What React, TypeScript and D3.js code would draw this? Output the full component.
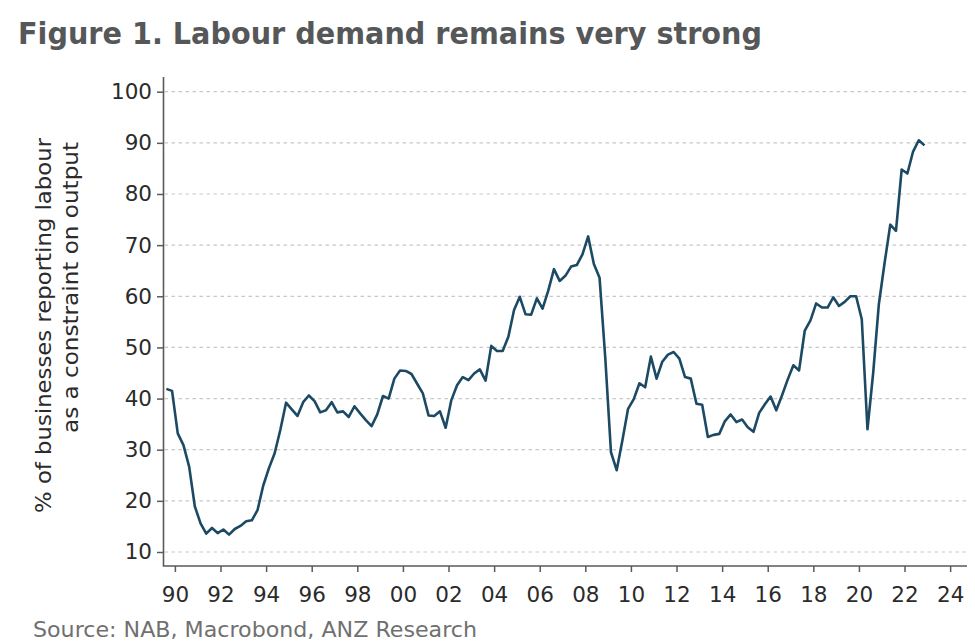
import React, { useEffect, useRef } from "react";
import * as d3 from "d3";

const width = 975;
const height = 643;

// quarterly series, first observation is 1989 Q3
const firstYear = 1989;
const firstQuarter = 3;
const labourConstraint = [
  41.9, 41.5,
  33.2, 30.9, 26.7, 18.9,
  15.6, 13.6, 14.7, 13.7,
  14.4, 13.4, 14.5, 15.1,
  16.0, 16.2, 18.2, 23.0,
  26.4, 29.3, 33.9, 39.2,
  37.9, 36.6, 39.3, 40.6,
  39.5, 37.3, 37.7, 39.3,
  37.3, 37.5, 36.4, 38.5,
  37.1, 35.8, 34.6, 36.9,
  40.5, 40.0, 43.9, 45.5,
  45.4, 44.8, 42.9, 41.0,
  36.7, 36.6, 37.5, 34.3,
  39.7, 42.6, 44.2, 43.6,
  44.9, 45.7, 43.5, 50.3,
  49.3, 49.3, 52.1, 57.3,
  59.9, 56.5, 56.4, 59.6,
  57.6, 61.1, 65.3, 63.0,
  64.0, 65.8, 66.1, 68.2,
  71.7, 66.3, 63.6, 48.0,
  29.5, 26.0, 31.8, 38.0,
  39.9, 43.0, 42.2, 48.2,
  43.9, 47.2, 48.6, 49.1,
  47.8, 44.2, 43.9, 39.0,
  38.8, 32.5, 32.9, 33.1,
  35.6, 36.9, 35.4, 35.9,
  34.4, 33.5, 37.2, 38.9,
  40.4, 37.7, 40.6, 43.7,
  46.5, 45.5, 53.3, 55.3,
  58.6, 57.8, 57.8, 59.8,
  58.1, 58.9, 60.0, 60.0,
  55.5, 34.0, 45.0, 58.5,
  66.5, 74.0, 72.8, 84.8,
  84.0, 88.3, 90.5, 89.5,
];

const yTicks = [10, 20, 30, 40, 50, 60, 70, 80, 90, 100];
const xTickYears = [
  1990, 1992, 1994, 1996, 1998, 2000, 2002, 2004, 2006, 2008, 2010, 2012,
  2014, 2016, 2018, 2020, 2022, 2024,
];
const xTickLabels = [
  "90", "92", "94", "96", "98", "00", "02", "04", "06", "08", "10", "12",
  "14", "16", "18", "20", "22", "24",
];

const plot = { left: 163.5, right: 967, top: 77, bottom: 566 };
const font = "'DejaVu Sans', Verdana, sans-serif";
const lineColor = "#1c4a65";
const axisColor = "#5a5a5a";
const textColor = "#2b2b2b";

export default function App(): JSX.Element {
  const ref = useRef<SVGSVGElement>(null);

  useEffect(() => {
    if (!ref.current) return;
    const svg = d3.select(ref.current);
    svg.selectAll("*").remove();

    const x = d3.scaleLinear().domain([1989.5, 2024.74]).range([plot.left, plot.right]);
    const y = d3.scaleLinear().domain([10, 100]).range([552, 91.7]);

    // quarters plotted at mid-quarter
    const series = labourConstraint.map((v, i) => ({
      t: firstYear + (firstQuarter - 1 + i) / 4 + 0.125,
      v,
    }));

    // dashed gridlines
    svg
      .append("g")
      .selectAll("line")
      .data(yTicks)
      .join("line")
      .attr("x1", plot.left + 1)
      .attr("x2", plot.right + 1)
      .attr("y1", (d) => y(d))
      .attr("y2", (d) => y(d))
      .attr("stroke", "#c8c8c8")
      .attr("stroke-width", 1.2)
      .attr("stroke-dasharray", "3.5,3.5");

    const yAxis = svg
      .append("g")
      .attr("transform", `translate(${plot.left},0)`)
      .call(d3.axisLeft(y).tickValues(yTicks).tickSize(6.5).tickPadding(5));
    yAxis.select(".domain").remove();
    yAxis.selectAll("line").attr("stroke", axisColor).attr("stroke-width", 1.5);
    yAxis
      .selectAll("text")
      .attr("font-family", font)
      .attr("font-size", 21.5)
      .attr("fill", textColor);

    const xAxis = svg
      .append("g")
      .attr("transform", `translate(0,${plot.bottom})`)
      .call(
        d3
          .axisBottom(x)
          .tickValues(xTickYears)
          .tickFormat((d, i) => xTickLabels[i])
          .tickSize(6)
          .tickPadding(15)
      );
    xAxis.select(".domain").remove();
    xAxis.selectAll("line").attr("stroke", axisColor).attr("stroke-width", 1.5);
    xAxis
      .selectAll("text")
      .attr("font-family", font)
      .attr("font-size", 21.5)
      .attr("fill", textColor);

    // axis lines
    svg
      .append("path")
      .attr("d", `M${plot.left},${plot.top}V${plot.bottom}H${plot.right}`)
      .attr("fill", "none")
      .attr("stroke", axisColor)
      .attr("stroke-width", 1.6);

    const line = d3
      .line<{ t: number; v: number }>()
      .x((d) => x(d.t))
      .y((d) => y(d.v));

    svg
      .append("path")
      .datum(series)
      .attr("d", line)
      .attr("fill", "none")
      .attr("stroke", lineColor)
      .attr("stroke-width", 2.6)
      .attr("stroke-linejoin", "round");

    svg
      .append("text")
      .attr("x", 18)
      .attr("y", 44)
      .attr("font-family", font)
      .attr("font-weight", "bold")
      .attr("font-size", 31)
      .attr("fill", "#555759")
      .attr("textLength", 744)
      .attr("lengthAdjust", "spacingAndGlyphs")
      .text("Figure 1. Labour demand remains very strong");

    const yTitle = svg
      .append("text")
      .attr("font-family", font)
      .attr("font-size", 21.5)
      .attr("fill", textColor)
      .attr("text-anchor", "middle");
    yTitle
      .append("tspan")
      .attr("x", -325.5)
      .attr("y", 51)
      .attr("textLength", 375)
      .attr("lengthAdjust", "spacingAndGlyphs")
      .text("% of businesses reporting labour");
    yTitle
      .append("tspan")
      .attr("x", -287.5)
      .attr("y", 78)
      .attr("textLength", 291)
      .attr("lengthAdjust", "spacingAndGlyphs")
      .text("as a constraint on output");
    yTitle.attr("transform", "rotate(-90)");

    svg
      .append("text")
      .attr("x", 33)
      .attr("y", 637)
      .attr("font-family", font)
      .attr("font-size", 20.5)
      .attr("fill", "#707070")
      .attr("textLength", 444)
      .attr("lengthAdjust", "spacingAndGlyphs")
      .text("Source: NAB, Macrobond, ANZ Research");
  }, []);

  return (
    <svg
      ref={ref}
      width={width}
      height={height}
      style={{ position: "absolute", left: 0, top: 0, background: "#fff" }}
    />
  );
}
